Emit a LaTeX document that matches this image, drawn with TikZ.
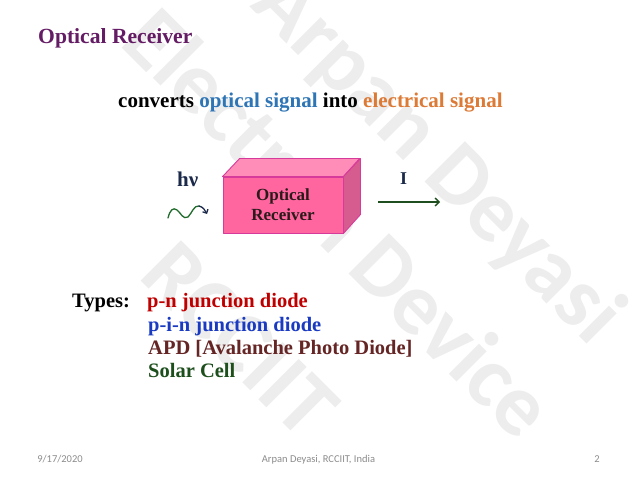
\documentclass[tikz,border=0pt]{standalone}
\usepackage{fontspec}
\setmainfont{Liberation Serif}
\newfontfamily\calib{Carlito}
\usetikzlibrary{arrows.meta}
\definecolor{titlepurple}{HTML}{641C64}
\definecolor{optblue}{HTML}{2E75B6}
\definecolor{elecorange}{HTML}{DD7A35}
\definecolor{pnred}{HTML}{C00000}
\definecolor{pinblue}{HTML}{1A3BC1}
\definecolor{apdbrown}{HTML}{652525}
\definecolor{solargreen}{HTML}{1D4F1D}
\definecolor{navy}{HTML}{1B2A4A}
\definecolor{arrgreen}{HTML}{1F4E1F}
\definecolor{wavegreen}{HTML}{1E6B2A}
\definecolor{frontpink}{HTML}{FF66A0}
\definecolor{toppink}{HTML}{FF8DB8}
\definecolor{sidepink}{HTML}{D65C8F}
\definecolor{edgepink}{HTML}{D63A9A}
\definecolor{boxtext}{HTML}{2A1A1A}
\definecolor{footgray}{HTML}{8C8C8C}
\tikzset{
  txt/.style={inner sep=0pt, anchor=base west},
  bodyfont/.style={font=\bfseries\fontsize{20.5}{24}\selectfont},
  wm/.style={inner sep=0pt, text=black!7, rotate=-45, font=\calib\bfseries\fontsize{88}{88}\selectfont},
  foot/.style={inner sep=0pt, anchor=base, text=footgray, font=\calib\fontsize{10.5}{12}\selectfont},
  face/.style={draw=edgepink, line width=0.9pt, line join=round},
}
\begin{document}
\begin{tikzpicture}[x=1pt,y=-1pt]
\useasboundingbox (0,0) rectangle (638,478);
\fill[white] (0,0) rectangle (638,478);
% watermark
\node[wm] (wm1) at (437,160) {Arpan Deyasi};
\node[wm] (wm2) at (340,222) {Electron Device};
\node[wm] (wm3) at (240,340) {RCCIIT};
% title
\node[txt, text=titlepurple, font=\bfseries\fontsize{21.6}{25}\selectfont] (title) at (38,44) {Optical Receiver};
% subtitle
\node[txt, font=\bfseries\fontsize{21}{24}\selectfont] (conv) at (118,108) {converts \textcolor{optblue}{optical signal} into \textcolor{elecorange}{electrical signal}};
% receiver box
\node[face, fill=frontpink, minimum width=120pt, minimum height=56pt, inner sep=0pt,
      align=center, text=boxtext, font=\bfseries\fontsize{17}{20}\selectfont] (rx) at (283,205) {Optical\\Receiver};
\fill[toppink, face] (rx.north west) -- ++(17,-18) -- ++(120,0) -- (rx.north east) -- cycle;
\fill[sidepink, face] (rx.north east) -- ++(17,-18) -- ++(0,56) -- (rx.south east) -- cycle;
% h nu and wave
\node[txt, text=navy, font=\bfseries\fontsize{21}{24}\selectfont] (hnu) at (177,187) {hν};
\coordinate (w0) at (168,218);
\coordinate (w1) at (199,206);
\coordinate (w2) at (207,214);
\draw[wavegreen, line width=1.3pt, line cap=round]
  (w0) .. controls (170,210) and (173,207) .. (177,210)
  .. controls (181,213) and (183,220) .. (188,217)
  .. controls (192,213) and (194,205) .. (w1);
\draw[navy, line width=1.3pt, line cap=round, -{Straight Barb[length=3pt,width=6pt]}]
  (w1) .. controls (203,207) and (205,210) .. (w2);
% current arrow
\node[txt, text=navy, font=\bfseries\fontsize{18}{22}\selectfont] (cur) at (400,185) {I};
\coordinate (a0) at (378,202);
\coordinate (a1) at (440,202);
\draw[arrgreen, line width=1.4pt, -{Straight Barb[length=4pt,width=8pt]}] (a0) -- (a1);
% types
\node[txt, bodyfont] (types) at (72,308) {Types:};
\node[txt, bodyfont, text=pnred] (t1) at (147,308) {p-n junction diode};
\node[txt, bodyfont, text=pinblue] (t2) at (148,332) {p-i-n junction diode};
\node[txt, bodyfont, text=apdbrown] (t3) at (148,355) {APD [Avalanche Photo Diode]};
\node[txt, bodyfont, text=solargreen] (t4) at (148,378) {Solar Cell};
% footer
\node[foot] (date) at (60,463) {9/17/2020};
\node[foot] (auth) at (318.5,463) {Arpan Deyasi, RCCIIT, India};
\node[foot] (page) at (597,463) {2};
\end{tikzpicture}
\end{document}
